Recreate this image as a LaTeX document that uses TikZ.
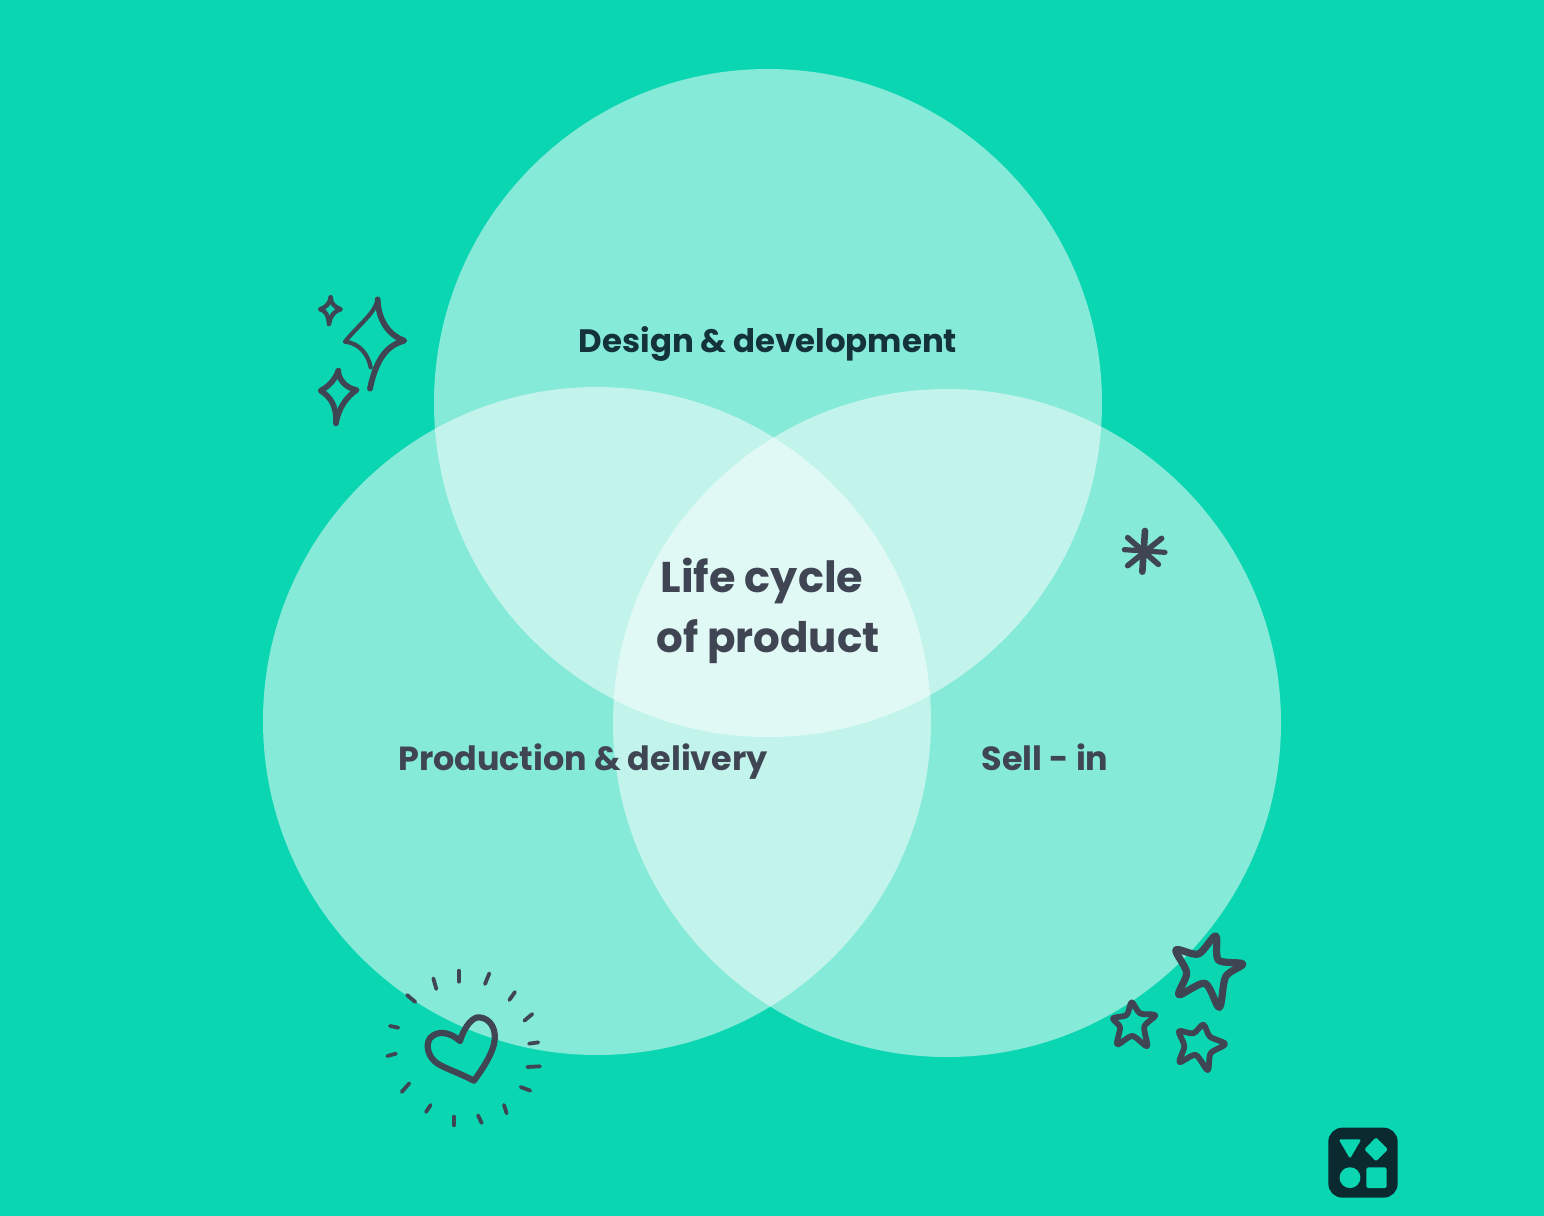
\documentclass[tikz,border=0pt]{standalone}
\usepackage{fontspec}
\setmainfont{Poppins}
\definecolor{bgteal}{HTML}{0BD6B2}
\definecolor{ink}{HTML}{3F4552}
\definecolor{deep}{HTML}{14323A}
\definecolor{logodark}{HTML}{0A2A30}
\tikzset{
  venn/.style={circle,fill=white,fill opacity=0.5,minimum size=334pt,inner sep=0pt,text opacity=1},
  lab/.style={font=\bfseries\fontsize{16.7}{20}\selectfont,text=ink,anchor=base,inner sep=0pt},
  biglab/.style={font=\bfseries\fontsize{21.2}{30}\selectfont,text=ink,anchor=base,inner sep=0pt},
  doodle/.style={draw=ink,line cap=round,line join=round,line width=2.4pt},
  tick/.style={draw=ink,line cap=round,line width=1.9pt}
}
\begin{document}
\begin{tikzpicture}[x=0.5pt,y=-0.5pt]
\useasboundingbox (0,0) rectangle (1544,1216);
\fill[bgteal] (0,0) rectangle (1544,1216);
% Venn circles
\node[venn] (design) at (768,403) {};
\node[venn] (production) at (597,721) {};
\node[venn] (sell) at (947,723) {};
% Labels
\node[lab,text=deep,font=\bfseries\fontsize{16.2}{20}\selectfont] (tdesign) at (768,352) {Design \& development};
\node[lab] (tprod) at (583,770) {Production \& delivery};
\node[lab] (tsell) at (1045,770) {Sell - in};
\node[biglab,font=\bfseries\fontsize{21.5}{30}\selectfont] (tlife) at (762,592) {Life cycle};
\node[biglab,font=\bfseries\fontsize{21}{30}\selectfont] (tof) at (768,652) {of product};
% Sparkles
\begin{scope}[shift={(300,280)},x=0.5pt/3,y=-0.5pt/3]
  \draw[doodle,line width=2.1pt] (233,58) .. controls (225,100) and (180,130) .. (135,185)
     .. controls (180,190) and (205,225) .. (212,262);
  \draw[doodle,line width=2.9pt] (233,58) .. controls (235,120) and (265,165) .. (313,182)
     .. controls (265,195) and (230,230) .. (210,326);
  \draw[doodle,line width=2.2pt] (92,52) .. controls (92,70) and (105,82) .. (122,88)
     .. controls (105,92) and (92,105) .. (87,132);
  \draw[doodle,line width=2.2pt] (92,52) .. controls (90,70) and (78,82) .. (60,88)
     .. controls (75,90) and (85,105) .. (87,132);
  \draw[doodle,line width=2.8pt] (115,272) .. controls (115,300) and (140,325) .. (170,330)
     .. controls (140,350) and (115,385) .. (108,430);
  \draw[doodle,line width=2.8pt] (115,272) .. controls (105,300) and (85,320) .. (62,332)
     .. controls (90,350) and (110,375) .. (108,430);
\end{scope}
% Asterisk
\begin{scope}[shift={(1105,515)},x=0.5pt/3,y=-0.5pt/3]
  \draw[tick,line width=3.3pt] (120,48) -- (112,170);
  \draw[tick,line width=2.8pt] (68,68) -- (160,148);
  \draw[tick,line width=2.8pt] (170,70) -- (68,152);
  \draw[tick,line width=2.6pt] (58,104) -- (180,112);
\end{scope}
% Heart
\begin{scope}[shift={(370,960)},x=0.5pt/3,y=-0.5pt/3]
  \draw[doodle,line width=3.1pt] (270,243) .. controls (285,195) and (310,170) .. (328,172)
    .. controls (360,175) and (378,205) .. (374,240)
    .. controls (370,280) and (335,330) .. (312,362)
    .. controls (270,340) and (225,325) .. (205,312)
    .. controls (175,295) and (165,255) .. (180,235)
    .. controls (200,210) and (240,215) .. (270,243);
  \foreach \a/\b/\c/\d in {190/55/199/87,267/32/267/65,358/40/345/72,435/96/418/120,
    487/162/463/182,505/247/477/251,510/319/472/321,481/392/452/381,402/435/410/460,
    324/466/335/489,251/470/251/496,182/435/168/456,118/370/95/396,78/281/52/288,
    85/203/60/198,111/105/136/126}
    \draw[tick] (\a,\b) -- (\c,\d);
\end{scope}
% Stars
\begin{scope}[shift={(1095,920)},x=0.5pt/3,y=-0.5pt/3]
  \draw[doodle,line width=3.6pt] plot[smooth cycle,tension=0.5] coordinates {
    (362,48) (370,120) (443,132) (392,170) (373,262) (330,190) (252,224) (275,158) (243,90) (310,102)};
  \draw[doodle,line width=2.9pt] plot[smooth cycle,tension=0.5] coordinates {
    (110,247) (135,280) (181,286) (148,320) (156,378) (112,348) (67,373) (75,322) (54,295) (95,285)};
  \draw[doodle,line width=2.9pt] plot[smooth cycle,tension=0.5] coordinates {
    (325,314) (345,350) (390,372) (347,400) (338,450) (302,405) (254,426) (268,378) (252,334) (295,340)};
\end{scope}
% Logo
\begin{scope}[shift={(1310,1110)},x=0.5pt/3,y=-0.5pt/3]
  \fill[logodark,rounded corners=7pt] (55,53) rectangle (263,263);
  \fill[bgteal,rounded corners=1pt] (86,88) -- (154,88) -- (120,146) -- cycle;
  \fill[bgteal,rounded corners=1pt] (198,82) -- (234,118) -- (198,154) -- (163,118) -- cycle;
  \fill[bgteal] (120,203) circle[radius=5.2pt];
  \fill[bgteal,rounded corners=0.8pt] (169,172) rectangle (230,234);
\end{scope}
\end{tikzpicture}
\end{document}
